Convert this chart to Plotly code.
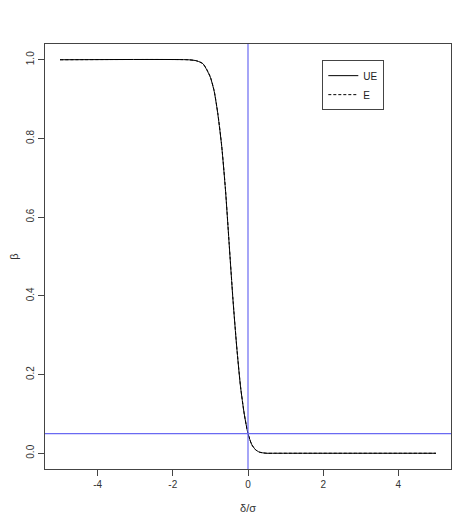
import plotly.graph_objects as go

# Values
delta_sigma = [-5.0, -1.6, -1.4, -1.3, -1.2, -1.1, -1.0, -0.9, -0.8, -0.7, -0.6, -0.5,
               -0.4, -0.3, -0.2, -0.1, 0.0, 0.1, 0.2, 0.3, 0.4, 0.5, 0.7, 5.0]
beta_UE = [1.0, 1.0, 0.998, 0.995, 0.99, 0.975, 0.955, 0.92, 0.86, 0.78, 0.67, 0.53,
           0.39, 0.27, 0.17, 0.10, 0.05, 0.022, 0.009, 0.003, 0.001, 0.0, 0.0, 0.0]
beta_E = [1.0, 1.0, 0.998, 0.995, 0.99, 0.976, 0.956, 0.921, 0.862, 0.782, 0.672, 0.532,
          0.392, 0.271, 0.171, 0.10, 0.05, 0.022, 0.009, 0.003, 0.001, 0.0, 0.0, 0.0]
alpha_level = 0.05
ref_x = 0.0

x_ticks = [-4, -2, 0, 2, 4]
y_ticks = [0.0, 0.2, 0.4, 0.6, 0.8, 1.0]

font_family = "Liberation Sans, Arial, sans-serif"
blue = "#6a6af2"

fig = go.Figure()
fig.add_trace(go.Scatter(x=delta_sigma, y=beta_UE, mode="lines", name="UE",
                         line=dict(color="black", width=1, shape="spline", smoothing=0.6)))
fig.add_trace(go.Scatter(x=delta_sigma, y=beta_E, mode="lines", name="E",
                         line=dict(color="black", width=1, dash="3px,2px", shape="spline", smoothing=0.6)))

fig.add_hline(y=alpha_level, line_color=blue, line_width=1.2, opacity=1)
fig.add_vline(x=ref_x, line_color=blue, line_width=1.2, opacity=1)

axis_common = dict(showline=True, mirror=True, linecolor="#444", linewidth=1,
                   ticks="outside", ticklen=6, tickcolor="#444", showgrid=False,
                   zeroline=False, automargin=False,
                   tickfont=dict(size=10, color="#333", family=font_family))

fig.update_xaxes(range=[-5.4, 5.4], tickvals=x_ticks, ticktext=[str(v) for v in x_ticks],
                 title=dict(text="δ/σ", font=dict(size=11, color="#333", family=font_family), standoff=15),
                 **axis_common)
fig.update_yaxes(range=[-0.04, 1.04], tickvals=y_ticks, tickformat=".1f", tickangle=-90,
                 title=dict(text="β", font=dict(size=11, color="#333", family=font_family), standoff=18),
                 **axis_common)

# page body adds an 8px offset, so the figure is sized to fit the window
fig.update_layout(
    width=466, height=516,
    margin=dict(l=37, r=23, t=36, b=55),
    paper_bgcolor="white", plot_bgcolor="white",
    showlegend=True,
    legend=dict(x=0.683, y=0.962, xanchor="left", yanchor="top",
                bordercolor="#444", borderwidth=1, bgcolor="white",
                font=dict(size=10, color="#222", family=font_family),
                itemwidth=30, tracegroupgap=0),
    font=dict(family=font_family),
)

fig.write_html("out.html")
